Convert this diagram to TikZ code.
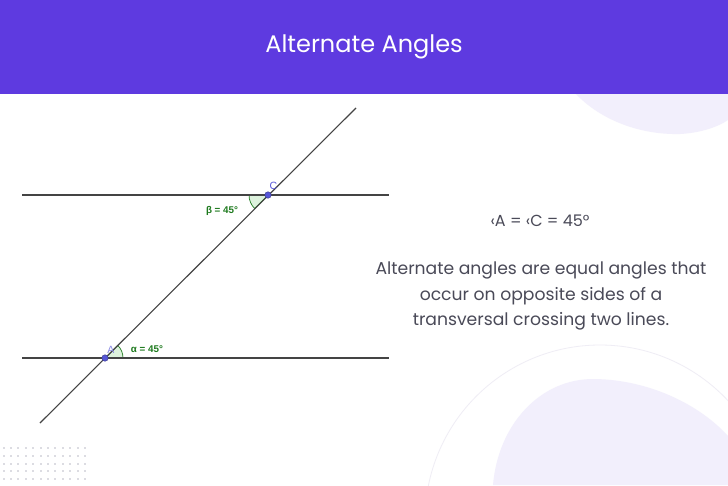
\documentclass[tikz,border=0pt]{standalone}
\usepackage{fontspec}
\setmainfont{Poppins}
\newfontfamily\lblfont{Liberation Sans}
\definecolor{hdr}{HTML}{5E3AE0}
\definecolor{blob}{HTML}{F2EFFC}
\definecolor{ring}{HTML}{EFEDF5}
\definecolor{txt}{HTML}{4A4A58}
\definecolor{lin}{HTML}{444444}
\definecolor{agreen}{HTML}{1E7A1E}
\definecolor{afill}{HTML}{DDF2DD}
\definecolor{pt}{HTML}{5656D8}
\definecolor{dotc}{HTML}{DCDCE2}
\tikzset{
  geoline/.style={draw=lin, line width=1.1pt},
  anglearc/.style={draw=agreen, fill=afill, line width=0.7pt},
  ptdot/.style={circle, fill=pt, draw=pt!60!black, line width=0.4pt, inner sep=0pt, minimum size=6.5pt},
  anglbl/.style={text=agreen, font=\lblfont\bfseries\fontsize{9.8}{11}\selectfont, inner sep=0pt},
  ptlbl/.style={text=pt, font=\lblfont\fontsize{10.5}{12}\selectfont, inner sep=0pt},
  body/.style={text=txt, font=\fontsize{17.2}{25.5}\selectfont, align=center, inner sep=0pt}
}
\begin{document}
\begin{tikzpicture}[x=1pt,y=-1pt]
\useasboundingbox (0,0) rectangle (728,485);
\fill[white] (0,0) rectangle (728,485);
% background blobs
\fill[blob] (575,93) .. controls (600,120) and (640,135) .. (680,134) .. controls (700,133) and (718,127) .. (728,120) -- (728,93) -- cycle;
\fill[blob] (493,485) .. controls (498,425) and (540,378) .. (595,379) .. controls (650,380) and (700,405) .. (728,436) -- (728,485) -- cycle;
\begin{scope}
\clip (0,94) rectangle (728,485);
\draw[ring, line width=0.8pt] (600,520) circle (175);
\end{scope}
% dot grid
\foreach \i in {0,...,11} {
  \foreach \j in {0,...,4} {
    \fill[dotc] (3.5+7.4*\i-1, 448+7.8*\j-1) rectangle ++(2,2);
  }
}
% header
\fill[hdr] (0,0) rectangle (728,94);
\node[text=white, font=\fontsize{24}{28}\selectfont] (title) at (364,47) {Alternate Angles};
% geometry
\coordinate (A) at (105,358);
\coordinate (C) at (268,195);
\coordinate (T1) at (40,423);
\coordinate (T2) at (356,108);
\coordinate (L1a) at (22,195);
\coordinate (L1b) at (389,195);
\coordinate (L2a) at (22,358);
\coordinate (L2b) at (389,358);
\path[anglearc] (C) -- ++(-19,0) arc[start angle=180, end angle=135, radius=19] -- cycle;
\path[anglearc] (A) -- ++(18,0) arc[start angle=0, end angle=-45, radius=18] -- cycle;
\draw[geoline] (L1a) -- (L1b);
\draw[geoline] (L2a) -- (L2b);
\draw[geoline] (T1) -- (T2);
\node[ptdot] (Cd) at (C) {};
\node[ptdot] (Ad) at (A) {};
\node[ptlbl] (Cl) at (273.5,186) {C};
\node[ptlbl, text=pt!70] (Al) at (111,350) {A};
\node[anglbl] (beta) at (222,211) {β = 45°};
\node[anglbl] (alpha) at (147,349) {α = 45°};
% right text
\node[body, font=\fontsize{16}{19}\selectfont] (eq) at (540,221) {‹A = ‹C = 45°};
\node[body] (desc) at (541,296) {Alternate angles are equal angles that\\occur on opposite sides of a\\transversal crossing two lines.};
\end{tikzpicture}
\end{document}
